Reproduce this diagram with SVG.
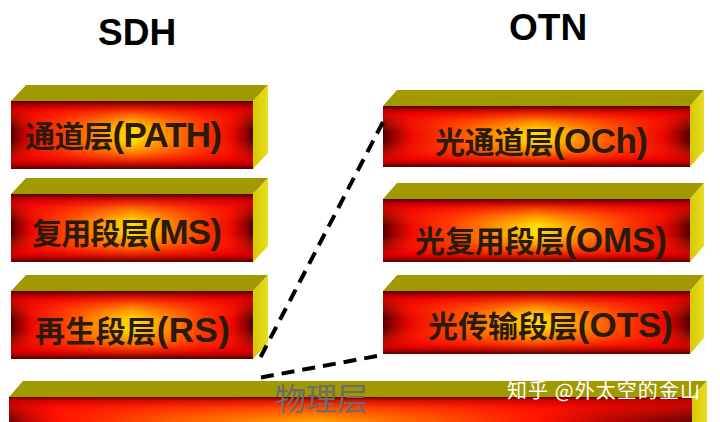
<svg xmlns="http://www.w3.org/2000/svg" width="720" height="422" viewBox="0 0 720 422">
<defs>
<linearGradient id="frontH" x1="0" y1="0" x2="1" y2="0">
<stop offset="0" stop-color="#500000"/>
<stop offset="0.035" stop-color="#a00000"/>
<stop offset="0.09" stop-color="#ee0800"/>
<stop offset="0.22" stop-color="#ff4000"/>
<stop offset="0.36" stop-color="#ff9000"/>
<stop offset="0.5" stop-color="#ffe000"/>
<stop offset="0.64" stop-color="#ff9000"/>
<stop offset="0.78" stop-color="#ff4000"/>
<stop offset="0.91" stop-color="#ee0800"/>
<stop offset="0.965" stop-color="#a00000"/>
<stop offset="1" stop-color="#500000"/>
</linearGradient>
<linearGradient id="frontV" x1="0" y1="0" x2="0" y2="1">
<stop offset="0" stop-color="#500000" stop-opacity="1"/>
<stop offset="0.05" stop-color="#a00000" stop-opacity="0.95"/>
<stop offset="0.13" stop-color="#ee0000" stop-opacity="0.8"/>
<stop offset="0.28" stop-color="#ff2000" stop-opacity="0.35"/>
<stop offset="0.42" stop-color="#ff4000" stop-opacity="0"/>
<stop offset="0.58" stop-color="#ff4000" stop-opacity="0"/>
<stop offset="0.72" stop-color="#ff2000" stop-opacity="0.35"/>
<stop offset="0.87" stop-color="#ee0000" stop-opacity="0.8"/>
<stop offset="0.95" stop-color="#a00000" stop-opacity="0.95"/>
<stop offset="1" stop-color="#500000" stop-opacity="1"/>
</linearGradient>
<linearGradient id="bottomH" x1="0" y1="0" x2="1" y2="0">
<stop offset="0" stop-color="#5a0000"/>
<stop offset="0.025" stop-color="#b00000"/>
<stop offset="0.07" stop-color="#ff1000"/>
<stop offset="0.25" stop-color="#ff6a00"/>
<stop offset="0.45" stop-color="#ffb000"/>
<stop offset="0.62" stop-color="#ff6000"/>
<stop offset="0.78" stop-color="#ff1000"/>
<stop offset="0.88" stop-color="#b00000"/>
<stop offset="1" stop-color="#5a0000"/>
</linearGradient>
<linearGradient id="bottomV" gradientUnits="userSpaceOnUse" x1="0" y1="397" x2="0" y2="424">
<stop offset="0" stop-color="#600000" stop-opacity="1"/>
<stop offset="0.12" stop-color="#cc0000" stop-opacity="0.9"/>
<stop offset="0.45" stop-color="#ff1000" stop-opacity="0.55"/>
<stop offset="1" stop-color="#ff2000" stop-opacity="0"/>
</linearGradient>
<linearGradient id="side" x1="0" y1="0" x2="1" y2="0">
<stop offset="0" stop-color="#d4ca00"/>
<stop offset="1" stop-color="#e8de20"/>
</linearGradient>
</defs>
<style>
.top{fill:#a19900;}
.side{fill:url(#side);}
.fh{fill:url(#frontH);}
.fv{fill:url(#frontV);}
.lbl{fill:#2a1a0c;}
.cjk{font-family:"Noto Sans CJK SC","Noto Sans CJK TC",sans-serif;font-size:30px;font-weight:700;}
.lat{font-family:"Liberation Sans",Arial,sans-serif;font-size:35px;font-weight:700;}
.title{font-family:"Liberation Sans",Arial,sans-serif;font-size:37px;font-weight:700;fill:#000;}
.dash{fill:none;stroke:#000;stroke-width:4;stroke-dasharray:13 8;}
</style>
<rect width="720" height="422" fill="#fff"/>
<text class="title" x="98" y="45">SDH</text>
<text class="title" x="509" y="40">OTN</text>

<g id="sdh-path">
<polygon class="top" points="11,101 26,85 268,85 253,101"/>
<polygon class="side" points="253,101 268,85 268,153 253,169"/>
<rect class="fh" x="11" y="101" width="242" height="68"/>
<rect class="fv" x="11" y="101" width="242" height="68"/>
<text class="lbl" x="25" y="147" textLength="197" lengthAdjust="spacing"><tspan class="cjk">通道层</tspan><tspan class="lat">(PATH)</tspan></text>
</g>
<g id="sdh-ms">
<polygon class="top" points="11,194 26,178 268,178 253,194"/>
<polygon class="side" points="253,194 268,178 268,246 253,262"/>
<rect class="fh" x="11" y="194" width="242" height="68"/>
<rect class="fv" x="11" y="194" width="242" height="68"/>
<text class="lbl" x="32" y="244" textLength="190" lengthAdjust="spacing"><tspan class="cjk">复用段层</tspan><tspan class="lat">(MS)</tspan></text>
</g>
<g id="sdh-rs">
<polygon class="top" points="11,291 26,275 268,275 253,291"/>
<polygon class="side" points="253,291 268,275 268,343 253,359"/>
<rect class="fh" x="11" y="291" width="242" height="68"/>
<rect class="fv" x="11" y="291" width="242" height="68"/>
<text class="lbl" x="35" y="342" textLength="195" lengthAdjust="spacing"><tspan class="cjk">再生段层</tspan><tspan class="lat">(RS)</tspan></text>
</g>

<g id="otn-och">
<polygon class="top" points="383,106 397,90 704,90 690,106"/>
<polygon class="side" points="690,106 704,90 704,151 690,167"/>
<rect class="fh" x="383" y="106" width="307" height="61"/>
<rect class="fv" x="383" y="106" width="307" height="61"/>
<text class="lbl" x="435" y="153" textLength="213" lengthAdjust="spacing"><tspan class="cjk">光通道层</tspan><tspan class="lat">(OCh)</tspan></text>
</g>
<g id="otn-oms">
<polygon class="top" points="383,199 397,183 704,183 690,199"/>
<polygon class="side" points="690,199 704,183 704,246 690,262"/>
<rect class="fh" x="383" y="199" width="307" height="63"/>
<rect class="fv" x="383" y="199" width="307" height="63"/>
<text class="lbl" x="415" y="252" textLength="252" lengthAdjust="spacing"><tspan class="cjk">光复用段层</tspan><tspan class="lat">(OMS)</tspan></text>
</g>
<g id="otn-ots">
<polygon class="top" points="383,291 397,275 704,275 690,291"/>
<polygon class="side" points="690,291 704,275 704,338 690,354"/>
<rect class="fh" x="383" y="291" width="307" height="63"/>
<rect class="fv" x="383" y="291" width="307" height="63"/>
<text class="lbl" x="428" y="337" textLength="245" lengthAdjust="spacing"><tspan class="cjk">光传输段层</tspan><tspan class="lat">(OTS)</tspan></text>
</g>

<g id="physical">
<polygon class="top" points="9,397 23,381 707,381 692,397"/>
<polygon class="side" points="692,397 707,381 707,422 692,422"/>
<rect x="9" y="397" width="683" height="25" fill="url(#bottomH)"/>
<rect x="9" y="397" width="683" height="25" fill="url(#bottomV)"/>
<text x="275" y="410" textLength="93" lengthAdjust="spacing" style="font-family:'Noto Sans CJK SC',sans-serif;font-size:31px;font-weight:400;fill:#6c6c6c;">物理层</text>
</g>

<g id="connectors">
<line class="dash" x1="383" y1="122" x2="258" y2="362"/>
<line class="dash" x1="377" y1="356" x2="258" y2="378"/>
</g>

<text x="507" y="398" textLength="193" lengthAdjust="spacing" style="font-family:'Noto Sans CJK SC',sans-serif;font-size:20px;font-weight:400;fill:#fff;">知乎 @外太空的金山</text>
</svg>
